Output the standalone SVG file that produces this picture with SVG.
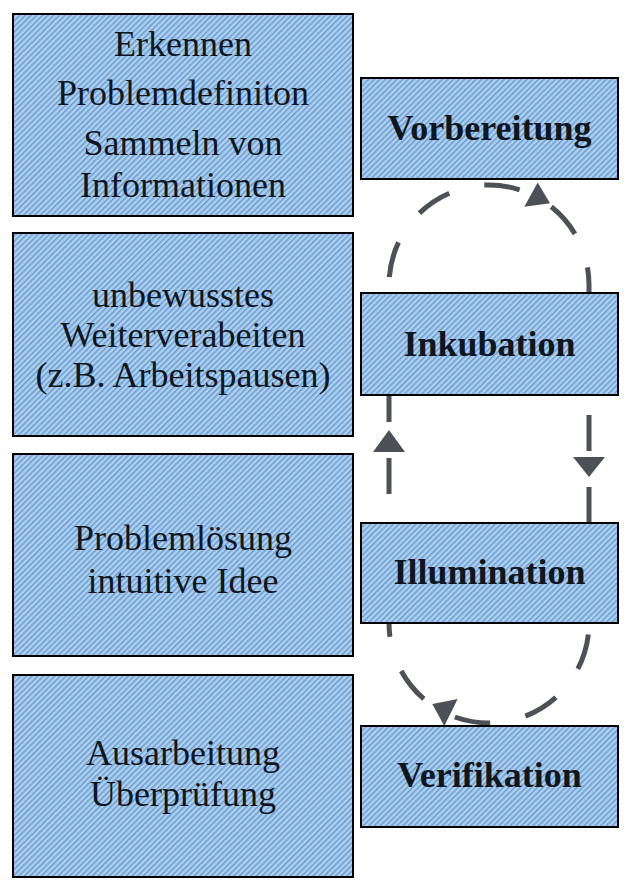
<svg xmlns="http://www.w3.org/2000/svg" width="630" height="892" viewBox="0 0 630 892">
<style>
.box{fill:url(#hatch);stroke:#000;stroke-width:2}
.t{font-family:"Liberation Serif","Times New Roman",serif;font-size:36px;fill:#0f1620;text-anchor:middle}
.b{font-weight:bold}
.con{fill:none;stroke:#4d5157;stroke-width:5;stroke-dasharray:36 36}
.ah{fill:#4d5157;stroke:none}
</style>
<defs>
<pattern id="hatch" patternUnits="userSpaceOnUse" width="4" height="4" patternTransform="rotate(45)">
<rect width="4" height="4" fill="#abd0f2"/>
<rect x="0" y="0" width="1.4" height="4" fill="#6a98c8"/>
</pattern>
</defs>
<rect width="630" height="892" fill="#fff"/>
<g id="connectors">
<path class="con" d="M389,293 L389,285 A100,100 0 0 1 589,285 L589,293" stroke-dashoffset="56"/>
<polygon class="ah" points="537.7,182.5 524.3,206.7 550,203.3"/>
<path class="con" d="M389,395 L389,523" stroke-dashoffset="9"/>
<polygon class="ah" points="389,430 373,452 405,452"/>
<path class="con" d="M589,395 L589,523" stroke-dashoffset="52"/>
<polygon class="ah" points="589,477 573,457 605,457"/>
<path class="con" d="M389,620 L389,623 A100,100 0 0 0 589,623" stroke-dashoffset="19"/>
<polygon class="ah" points="444.3,726 432.3,704 457.7,699"/>
</g>
<g id="n1">
<rect class="box" x="13" y="14" width="340" height="202"/>
<text class="t" x="183" y="56">Erkennen</text>
<text class="t" x="183" y="105">Problemdefiniton</text>
<text class="t" x="183" y="155">Sammeln von</text>
<text class="t" x="183" y="197">Informationen</text>
</g>
<g id="n2">
<rect class="box" x="13" y="233" width="340" height="203"/>
<text class="t" x="183" y="307">unbewusstes</text>
<text class="t" x="183" y="347">Weiterverabeiten</text>
<text class="t" x="183" y="387">(z.B. Arbeitspausen)</text>
</g>
<g id="n3">
<rect class="box" x="13" y="454" width="340" height="202"/>
<text class="t" x="183" y="550">Problemlösung</text>
<text class="t" x="183" y="593">intuitive Idee</text>
</g>
<g id="n4">
<rect class="box" x="13" y="675" width="340" height="202"/>
<text class="t" x="183" y="765">Ausarbeitung</text>
<text class="t" x="183" y="806">Überprüfung</text>
</g>
<g id="vorbereitung">
<rect class="box" x="361" y="78" width="257" height="101"/>
<text class="t b" x="489.5" y="140">Vorbereitung</text>
</g>
<g id="inkubation">
<rect class="box" x="361" y="293" width="257" height="102"/>
<text class="t b" x="489.5" y="356">Inkubation</text>
</g>
<g id="illumination">
<rect class="box" x="361" y="523" width="257" height="100"/>
<text class="t b" x="489.5" y="584">Illumination</text>
</g>
<g id="verifikation">
<rect class="box" x="361" y="726" width="257" height="101"/>
<text class="t b" x="489.5" y="787">Verifikation</text>
</g>
</svg>
